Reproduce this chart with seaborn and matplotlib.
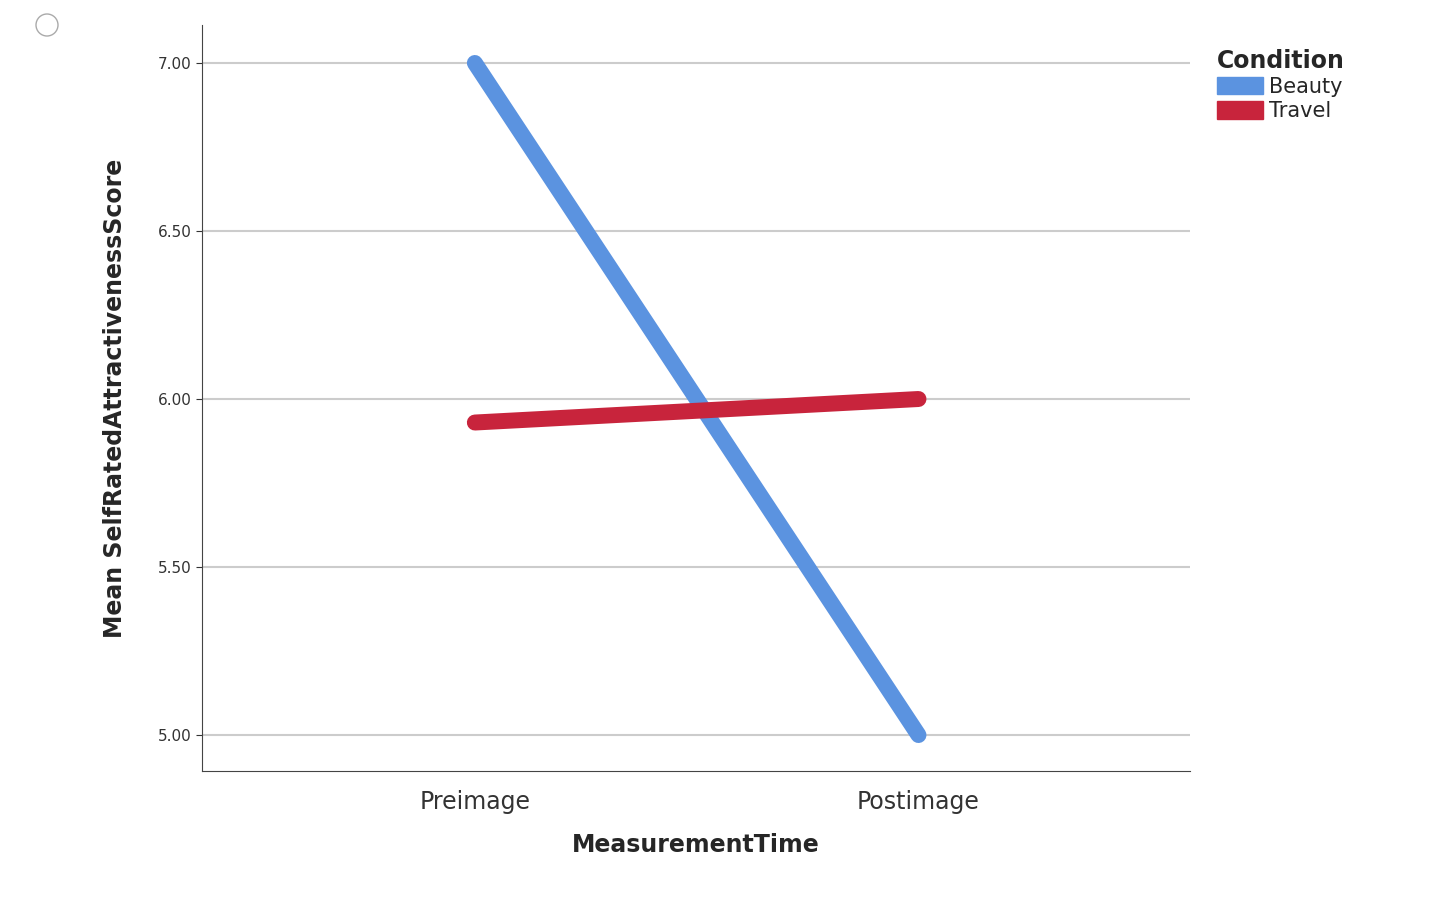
import matplotlib
matplotlib.use('Agg')
import matplotlib.pyplot as plt
import matplotlib.patches as mpatches
import pandas as pd
import seaborn as sns

# data
times = ['Preimage', 'Postimage']
beauty = [7.00, 5.00]
travel = [5.93, 6.00]
conditions = ['Beauty', 'Travel']
colors = {'Beauty': '#5b93e0', 'Travel': '#c8243c'}

df = pd.DataFrame({
    'MeasurementTime': times * 2,
    'Score': beauty + travel,
    'Condition': ['Beauty'] * 2 + ['Travel'] * 2,
})

sns.set_style('white')
fig = plt.figure(figsize=(14.36, 8.98), dpi=100)
ax = fig.add_axes([202 / 1436, 1 - 771 / 898, (1190 - 202) / 1436, (771 - 25) / 898])

sns.lineplot(data=df, x='MeasurementTime', y='Score', hue='Condition',
             palette=colors, linewidth=11.5, ax=ax, legend=False, sort=False)

ax.set_xlim(-0.615, 1.612)
ax.set_ylim(4.893, 7.113)
ax.set_yticks([5.0, 5.5, 6.0, 6.5, 7.0])
ax.set_yticklabels([f'{v:.2f}' for v in [5.0, 5.5, 6.0, 6.5, 7.0]], fontsize=11)
ax.tick_params(axis='x', labelsize=17, colors='#333333', pad=10)
ax.tick_params(axis='y', colors='#333333', left=True, length=4)
ax.yaxis.grid(True, color='#cccccc', linewidth=1.5)
ax.set_axisbelow(True)
for s in ['top', 'right']:
    ax.spines[s].set_visible(False)
for s in ['left', 'bottom']:
    ax.spines[s].set_color('#444444')
ax.set_xlabel('MeasurementTime', fontsize=17, fontweight='bold', labelpad=14)
ax.set_ylabel('Mean SelfRatedAttractivenessScore', fontsize=17, fontweight='bold', labelpad=22)

handles = [mpatches.Patch(color=colors[c], label=c) for c in conditions]
leg = fig.legend(handles=handles, title='Condition', loc='upper left',
                 bbox_to_anchor=(1198 / 1436, 1 - 30 / 898), frameon=False,
                 fontsize=15, title_fontsize=17, handlelength=2.2, handleheight=0.9,
                 handletextpad=0.3, labelspacing=0.2)
leg.get_title().set_fontweight('bold')
leg._legend_box.align = 'left'

# little radio circle top-left
fig.patches.append(mpatches.Ellipse((47 / 1436, 1 - 25 / 898), 22 / 1436, 22 / 898,
                                    transform=fig.transFigure, fill=False,
                                    edgecolor='#aaaaaa', linewidth=1))

fig.savefig('out.png', dpi=100)
